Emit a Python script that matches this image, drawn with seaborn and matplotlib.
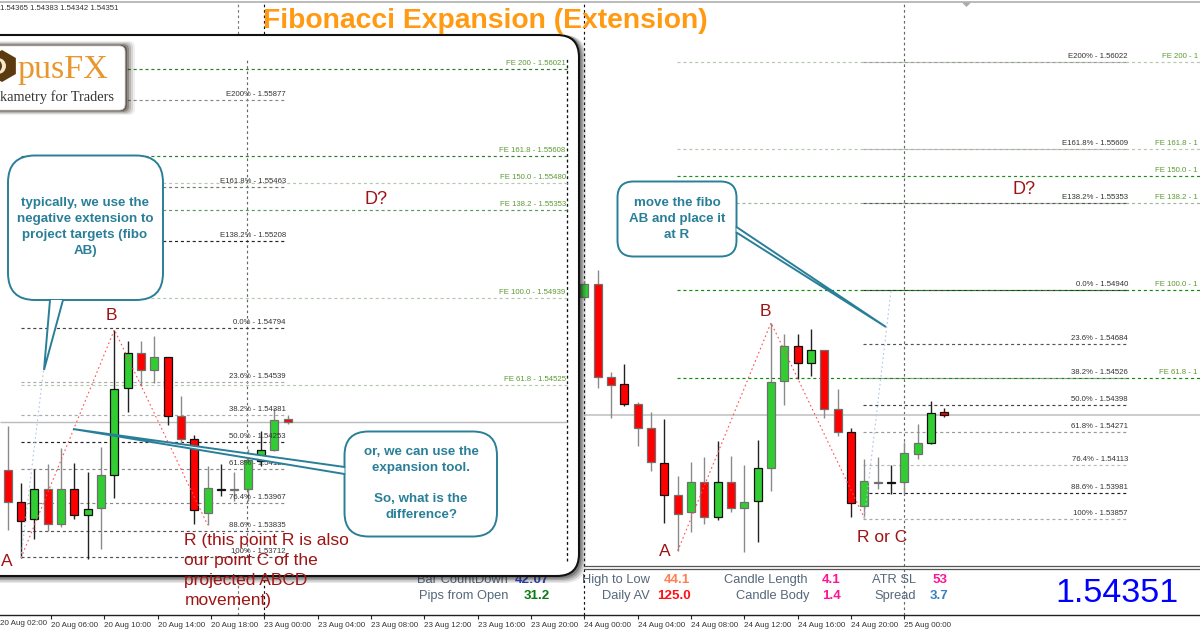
import numpy as np
import pandas as pd
import seaborn as sns
import matplotlib
matplotlib.use("Agg")
import matplotlib.pyplot as plt
from matplotlib.patches import FancyBboxPatch, Polygon, RegularPolygon, Circle

# ---------- data ----------
bars = list(range(-1, 27))
opens = [1.54910, 1.54972, 1.54531, 1.54498, 1.54403, 1.54289, 1.54123, 1.53971, 1.53891, 1.54033, 1.53867,
         1.54033, 1.53910, 1.53943, 1.54099, 1.54512, 1.54678, 1.54597, 1.54659, 1.54379, 1.54270, 1.53919,
         1.54033, 1.54028, 1.54033, 1.54166, 1.54218, 1.54365]
closes = [1.54972, 1.54531, 1.54493, 1.54403, 1.54289, 1.54128, 1.53971, 1.53881, 1.54033, 1.53867, 1.54033,
          1.53910, 1.53938, 1.54099, 1.54507, 1.54678, 1.54597, 1.54659, 1.54379, 1.54270, 1.53933, 1.54038,
          1.54028, 1.54033, 1.54170, 1.54218, 1.54360, 1.54351]
highs = [1.54986, 1.55038, 1.54554, 1.54592, 1.54412, 1.54365, 1.54332, 1.54061, 1.54128, 1.54152, 1.54227,
         1.54156, 1.54114, 1.54232, 1.54787, 1.54735, 1.54735, 1.54758, 1.54659, 1.54474, 1.54289, 1.54142,
         1.54152, 1.54114, 1.54223, 1.54308, 1.54417, 1.54383]
lows = [1.54900, 1.54479, 1.54336, 1.54393, 1.54204, 1.54085, 1.53839, 1.53706, 1.53796, 1.53834, 1.53853,
        1.53891, 1.53701, 1.53749, 1.53990, 1.54398, 1.54521, 1.54535, 1.54336, 1.54251, 1.53867, 1.53862,
        1.54000, 1.53976, 1.53976, 1.54142, 1.54213, 1.54342]
last_price = 1.54351

tick_bars = list(range(-41, 24, 4))
tick_names = ["20 Aug 06:00", "20 Aug 10:00", "20 Aug 14:00", "20 Aug 18:00", "23 Aug 00:00",
              "23 Aug 04:00", "23 Aug 08:00", "23 Aug 12:00", "23 Aug 16:00", "23 Aug 20:00", "24 Aug 00:00",
              "24 Aug 04:00", "24 Aug 08:00", "24 Aug 12:00", "24 Aug 16:00", "24 Aug 20:00", "25 Aug 00:00"]
first_tick_name = "20 Aug 02:00"

exp_names = ["E200%", "E161.8%", "E138.2%", "0.0%", "23.6%", "38.2%", "50.0%", "61.8%", "76.4%", "88.6%", "100%"]
exp_right = [1.56022, 1.55609, 1.55353, 1.54940, 1.54684, 1.54526, 1.54398, 1.54271, 1.54113, 1.53981, 1.53857]
exp_left = [1.55877, 1.55463, 1.55208, 1.54794, 1.54539, 1.54381, 1.54253, 1.54125, 1.53967, 1.53835, 1.53712]
fe_names = ["FE 200", "FE 161.8", "FE 150.0", "FE 138.2", "FE 100.0", "FE 61.8"]
fe_right = [1.56022, 1.55609, 1.55480, 1.55353, 1.54940, 1.54526]
fe_left = [1.56021, 1.55608, 1.55480, 1.55353, 1.54939, 1.54525]

zig_bars = [6, 13, 20]
zig_prices = [1.53706, 1.54787, 1.53862]

# ---------- style ----------
sns.set_theme(style="white")
plt.rcParams["font.family"] = ["Liberation Sans", "DejaVu Sans"]
W, H = 1200, 630
fig = plt.figure(figsize=(12, 6.3), dpi=100, facecolor="white")
AX_TOP, AX_BOT = 2, 615.3
rect = [0, (H - AX_BOT) / H, 1, (AX_BOT - AX_TOP) / H]
PX_PRICE = 1 / 21110
BAR_PX = 40 / 3

def limits(bar0_px, top0_price):
    x0 = (0 - bar0_px) / BAR_PX
    x1 = (W - bar0_px) / BAR_PX
    return (x0, x1), (top0_price - AX_BOT * PX_PRICE, top0_price - AX_TOP * PX_PRICE)

TEAL = "#2A7F98"
RED_T = "#9E1414"
GREY_TXT = "#55687A"
FE_TXT = "#5C9A32"
SMALL = 5.6

def candles(ax, idx, dark):
    for i in idx:
        k = bars.index(i)
        o, c, h, l = opens[k], closes[k], highs[k], lows[k]
        col = "#32CD32" if c >= o else "#FF0000"
        ec = "#111111" if i in dark else "#707070"
        ax.vlines(i, l, h, color=("#222222" if i in dark else "#8A8A8A"), lw=1.0, zorder=2)
        ax.bar(i, abs(c - o), bottom=min(o, c), width=0.6, color=col, edgecolor=ec, lw=0.9, zorder=3)

def levels(ax, names, prices, x0, x1, cols, tx, ha, tcol):
    for n, p, c in zip(names, prices, cols):
        ax.hlines(p, x0, x1, color=c, lw=0.85, linestyles=[(0, (2.6, 2.4))], zorder=1)
        if tx is not None:
            ax.text(tx, p + 2.0 * PX_PRICE, f"{n} - {p:.5f}", ha=ha, va="bottom", fontsize=SMALL, color=tcol, zorder=4)

def zigzag(ax):
    d = pd.DataFrame({"bar": zig_bars, "price": zig_prices})
    sns.lineplot(data=d, x="bar", y="price", ax=ax, sort=False, estimator=None, color="#FF5050",
                 lw=0.8, linestyle=(0, (1.5, 2.5)), legend=False, zorder=5)
    ax.set_xlabel(""); ax.set_ylabel("")

# ---------- main (right) chart ----------
ax = fig.add_axes(rect, zorder=1)
xl, yl = limits(597.7, 1.56022 + 62 * PX_PRICE)
sns.despine(ax=ax, left=True, right=True, top=False, bottom=False)
ax.spines["top"].set_color("#BBBBBB"); ax.spines["top"].set_linewidth(1.4)
ax.spines["bottom"].set_color("#222222"); ax.spines["bottom"].set_linewidth(1.0)
for v, c in [(-27, "#777777"), (-25, "#111111"), (-1, "#111111"), (23, "#666666")]:
    ax.vlines(v, yl[0], yl[1], color=c, lw=0.85, linestyles=[(0, (2.2, 2.4))], zorder=1)
ax.hlines(last_price, -1, xl[1], color="#C4C4C4", lw=1.2, zorder=1)
fe_col_r = ["#B5C8B0", "#B5C8B0", "#1E8C1E", "#9DB89B", "#0E8C0E", "#0E8C0E"]
levels(ax, fe_names, fe_right, 5.95, xl[1], fe_col_r, None, None, None)
for n, p in zip(fe_names, fe_right):
    # the reference screenshot shows only the start of these labels at its right edge
    ax.text(45.0, p + 2.0 * PX_PRICE, f"{n} - {p:.5f}"[:len(n) + 4], ha="right", va="bottom", fontsize=SMALL, color=FE_TXT)
exp_col_r = ["#999999", "#AAAAAA", "#555555", "#333333", "#555555", "#999999", "#444444", "#999999", "#BBBBBB", "#222222", "#AAAAAA"]
levels(ax, exp_names, exp_right, 19.87, 39.77, exp_col_r, 39.77, "right", "#333333")
candles(ax, bars, {2, 5, 9, 12, 15, 16, 19, 22, 25, 26})
zigzag(ax)
ax.plot([20, 22], [zig_prices[2], fe_right[4]], color="#AFC4E0", lw=0.8, linestyle=(0, (1.5, 2.5)), zorder=5)
ax.set_xticks(tick_bars)
ax.set_xticklabels(tick_names, ha="left", fontsize=SMALL + 0.15, color="#333333")
ax.tick_params(axis="x", length=3, width=0.8, color="#222222", pad=1.5, bottom=True)
ax.set_yticks([])
ax.set_xlim(*xl); ax.set_ylim(*yl)
ax.set_facecolor("white")

# ---------- pixel layer under the inset: panel ----------
under = fig.add_axes([0, 0, 1, 1], zorder=2)
under.set_xlim(0, W); under.set_ylim(H, 0); under.axis("off")
for off, a in [(7, .10), (5.5, .16), (4, .22), (2.5, .3)]:
    under.add_patch(FancyBboxPatch((-60, 35), 639 + off, 541 + off, boxstyle="round,pad=0,rounding_size=22",
                                   fc="#222222", ec="none", alpha=a))
under.add_patch(FancyBboxPatch((-60, 35), 639, 541, boxstyle="round,pad=0,rounding_size=22",
                               fc="white", ec="#111111", lw=1.5))

# ---------- left inset chart (same bars, another scale) ----------
al = fig.add_axes(rect, zorder=3)
xl2, yl2 = limits(597.7 - 656.67, 1.56022 + 69 * PX_PRICE)
al.patch.set_visible(False)
for s in al.spines.values():
    s.set_visible(False)
al.set_xticks([]); al.set_yticks([])
al.vlines(22.95, 1.53712, 1.56021 + 10 * PX_PRICE, color="#666666", lw=0.85, linestyles=[(0, (2.2, 2.4))], zorder=1)
al.vlines(46.92, 1.53712 - 4 * PX_PRICE, 1.56021 + 12 * PX_PRICE, color="#111111", lw=0.95, linestyles=[(0, (2.2, 2.0))], zorder=1)
al.hlines(last_price, xl2[0], 46.92, color="#BBBBBB", lw=1.0, zorder=1)
fe_col_l = ["#2E7D2E", "#2E7D2E", "#B5C8B0", "#5E9A5E", "#B5C8B0", "#B5C8B0"]
levels(al, fe_names, fe_left, 6, 46.92, fe_col_l, 46.85, "right", FE_TXT)
exp_col_l = ["#888888", "#777777", "#222222", "#444444", "#AAAAAA", "#AAAAAA", "#222222", "#888888", "#888888", "#555555", "#555555"]
levels(al, exp_names, exp_left, 6, 25.87, exp_col_l, 25.87, "right", "#333333")
candles(al, bars[6:], {6, 7, 10, 11, 13, 14, 17, 19, 21, 24})
zigzag(al)
al.plot([6, 7.7], [zig_prices[0], 1.54602], color="#AFC4E0", lw=0.8, linestyle=(0, (1.5, 2.5)), zorder=5)
al.set_xlim(*xl2); al.set_ylim(*yl2)

# ---------- pixel layer on top: labels, callouts, logo ----------
top = fig.add_axes([0, 0, 1, 1], zorder=4)
top.set_xlim(0, W); top.set_ylim(H, 0); top.axis("off"); top.patch.set_visible(False)

top.text(485.5, 20.5, "Fibonacci Expansion (Extension)", ha="center", va="center", fontsize=20.3,
         fontweight="bold", color="#FF9A12")
top.text(0.5, 9, "1.54365 1.54383 1.54342 1.54351", ha="left", va="center", fontsize=SMALL, color="#333333")
top.text(0.5, 623.5, first_tick_name, ha="left", va="center", fontsize=SMALL + 0.15, color="#333333")
top.add_patch(Polygon([[962, 2.5], [971, 2.5], [966.5, 7]], fc="#AAAAAA", ec="none"))

def callout(x0, y0, x1, y1, r, tail, lines, cx):
    top.add_patch(FancyBboxPatch((x0, y0), x1 - x0, y1 - y0, boxstyle=f"round,pad=0,rounding_size={r}",
                                 fc="white", ec=TEAL, lw=1.4))
    top.add_patch(Polygon(tail, closed=False, fc="white", ec="none"))
    xs, ys = zip(*tail)
    top.plot(xs, ys, color=TEAL, lw=1.4, solid_joinstyle="miter")
    for t, y in lines:
        top.text(cx, y, t, ha="center", va="center", fontsize=9.6, fontweight="bold", color=TEAL)

callout(8, 155.5, 163, 300, 27, [(50, 300), (44, 370), (63, 300)],
        [("typically, we use the", 203), ("negative extension to", 219), ("project targets (fibo", 235), ("AB)", 251)], 85)
callout(344.5, 431.5, 497, 536.5, 24, [(344.5, 467), (73, 429), (344.5, 474)],
        [("or, we can use the", 452), ("expansion tool.", 467.5), ("So, what is the", 499), ("difference?", 515)], 421)
callout(617.5, 181.5, 736.5, 256.5, 16, [(736.5, 227), (886, 327), (736.5, 232.5)],
        [("move the fibo", 203), ("AB and place it", 219), ("at R", 235)], 677)

for t, x, y, fs in [("D?", 1013, 190, 13), ("D?", 365, 199, 13), ("B", 106, 315, 12.5), ("B", 760, 312, 12.5),
                    ("A", 0.5, 561, 12.5), ("A", 659, 552, 12.5), ("R or C", 857, 537, 12.5)]:
    top.text(x, y, t, ha="left", va="center", fontsize=fs, color=RED_T)
for t, y in [("R (this point R is also", 540), ("our point C of the", 560), ("projected ABCD", 580), ("movement)", 600)]:
    top.text(184.5, y, t, ha="left", va="center", fontsize=12.5, color=RED_T)

# info panel (part of it slips under the inset panel)
ax_info = fig.add_axes([0, 0, 1, 1], zorder=1.5)
ax_info.set_xlim(0, W); ax_info.set_ylim(H, 0); ax_info.axis("off"); ax_info.patch.set_visible(False)
ax_info.plot([584, 1200], [566, 566], color="#555555", lw=0.9)
ax_info.plot([584, 1200], [568.5, 568.5], color="#555555", lw=0.9)
for t, x, y in [("Bar CountDown", 508, 580), ("Pips from Open", 508, 596), ("High to Low", 650, 580), ("Daily AV", 650, 596),
                ("Candle Length", 808, 580), ("Candle Body", 810, 596), ("ATR SL", 916, 580), ("Spread", 916, 596)]:
    ax_info.text(x, y, t, ha="right", va="center", fontsize=9.25, color=GREY_TXT)
for t, x, y, c in [("42:07", 549, 580, "#2A3FC0"), ("31.2", 550, 596, "#0A7A14"), ("44.1", 690, 580, "#FF7F50"),
                   ("125.0", 691, 596, "#FF1010"), ("4.1", 840, 580, "#FF1493"), ("1.4", 841, 596, "#FF1493"),
                   ("53", 948, 580, "#FF1493"), ("3.7", 948, 596, "#3A80C0")]:
    ax_info.text(x, y, t, ha="right", va="center", fontsize=9.6, fontweight="bold", color=c)
ax_info.text(1055, 593, "1.54351", ha="left", va="center", fontsize=24.5, color="#0000FF")

# logo
for off, a in [(10, .07), (8, .12), (6, .18), (4, .28), (2, .4)]:
    top.add_patch(FancyBboxPatch((-30, 46 - off / 2), 155 + off, 64 + off, boxstyle="round,pad=0,rounding_size=6",
                                 fc="#2A1E12", ec="none", alpha=a))
top.add_patch(FancyBboxPatch((-30, 46), 155, 64, boxstyle="round,pad=0,rounding_size=6", fc="white", ec="#DDDDDD", lw=0.6))
top.add_patch(RegularPolygon((2, 66), 6, radius=16, orientation=0.0, fc="#5B3A10", ec="none"))
top.add_patch(Circle((-2, 66), 8, fc="#F5E6C8", ec="none"))
top.add_patch(Circle((-5, 66), 7, fc="#5B3A10", ec="none"))
top.text(17, 70, "pusFX", ha="left", va="center", fontsize=24.5, family="Liberation Serif", color="#E8962E")
top.text(0.5, 97.5, "kametry for Traders", ha="left", va="center", fontsize=10.4, family="Liberation Serif", color="#333333")

fig.savefig("out.png", dpi=100)
